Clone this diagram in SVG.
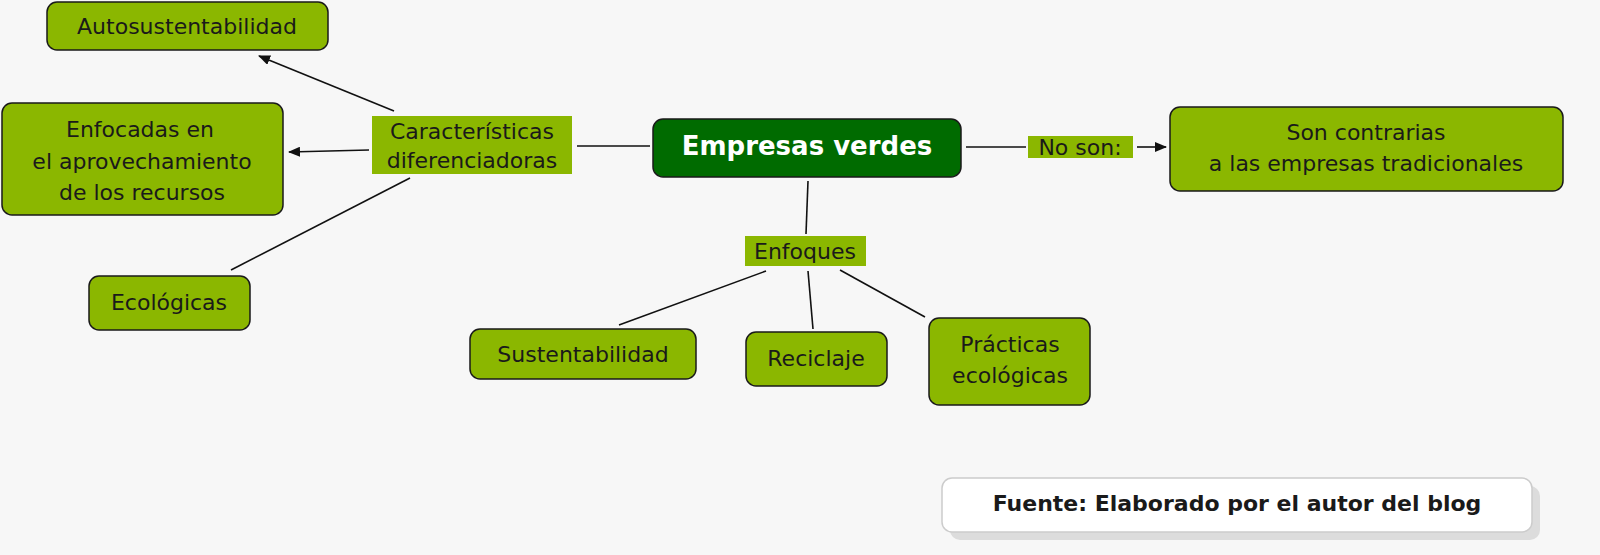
<svg xmlns="http://www.w3.org/2000/svg" width="1600" height="555" viewBox="0 0 1600 555">
<style>
.n{fill:#8bb700;stroke:#1a1a1a;stroke-width:1.5}
.t{font-family:"DejaVu Sans",sans-serif;font-size:22px;fill:#1a1a1a;text-anchor:middle}
.lb{fill:#8bb700}
.c{stroke:#111;stroke-width:1.6;fill:none}
</style>
<defs><marker id="a" markerWidth="12" markerHeight="10" refX="11" refY="5" orient="auto" markerUnits="userSpaceOnUse"><path d="M0,0L12,5L0,10z" fill="#111"/></marker></defs>
<rect width="1600" height="555" fill="#f7f7f7"/>
<g id="connectors">
<line class="c" x1="577" y1="146" x2="650" y2="146"/>
<line class="c" x1="394" y1="111" x2="259" y2="56" marker-end="url(#a)"/>
<line class="c" x1="369" y1="150" x2="289" y2="152" marker-end="url(#a)"/>
<line class="c" x1="410" y1="178" x2="231" y2="270"/>
<line class="c" x1="808" y1="181" x2="806" y2="234"/>
<line class="c" x1="766" y1="271" x2="619" y2="325"/>
<line class="c" x1="808" y1="271" x2="813" y2="329"/>
<line class="c" x1="840" y1="270" x2="925" y2="317"/>
<line class="c" x1="966" y1="147" x2="1026" y2="147"/>
<line class="c" x1="1137" y1="147" x2="1166" y2="147" marker-end="url(#a)"/>
</g>
<g id="lbl-caracteristicas"><rect class="lb" x="372" y="116" width="200" height="58"/><text class="t" x="472" y="139">Características</text><text class="t" x="472" y="168">diferenciadoras</text></g>
<g id="lbl-enfoques"><rect class="lb" x="745" y="236" width="121" height="30"/><text class="t" x="805" y="259">Enfoques</text></g>
<g id="lbl-noson"><rect class="lb" x="1028" y="136" width="105" height="22"/><text class="t" x="1080" y="155">No son:</text></g>
<g id="autosustentabilidad"><rect class="n" x="47" y="2" width="281" height="48" rx="10"/><text class="t" x="187" y="34">Autosustentabilidad</text></g>
<g id="enfocadas"><rect class="n" x="2" y="103" width="281" height="112" rx="10"/><text class="t" x="140" y="137">Enfocadas en</text><text class="t" x="142" y="169">el aprovechamiento</text><text class="t" x="142" y="200">de los recursos</text></g>
<g id="ecologicas"><rect class="n" x="89" y="276" width="161" height="54" rx="10"/><text class="t" x="169" y="310">Ecológicas</text></g>
<g id="empresas"><rect x="653" y="119" width="308" height="58" rx="10" fill="#006b00" stroke="#1a1a1a" stroke-width="1.5"/><text class="t" x="807" y="155" style="fill:#fff;font-weight:bold;font-size:26px">Empresas verdes</text></g>
<g id="contrarias"><rect class="n" x="1170" y="107" width="393" height="84" rx="10"/><text class="t" x="1366" y="140">Son contrarias</text><text class="t" x="1366" y="171">a las empresas tradicionales</text></g>
<g id="sustentabilidad"><rect class="n" x="470" y="329" width="226" height="50" rx="10"/><text class="t" x="583" y="362">Sustentabilidad</text></g>
<g id="reciclaje"><rect class="n" x="746" y="332" width="141" height="54" rx="10"/><text class="t" x="816" y="366">Reciclaje</text></g>
<g id="practicas"><rect class="n" x="929" y="318" width="161" height="87" rx="10"/><text class="t" x="1010" y="352">Prácticas</text><text class="t" x="1010" y="383">ecológicas</text></g>
<g id="fuente"><rect x="950" y="486" width="590" height="54" rx="10" fill="#dcdcdc"/><rect x="942" y="478" width="590" height="54" rx="10" fill="#fff" stroke="#ccc" stroke-width="1.5"/><text class="t" x="1237" y="511" style="font-weight:bold">Fuente: Elaborado por el autor del blog</text></g>
</svg>
